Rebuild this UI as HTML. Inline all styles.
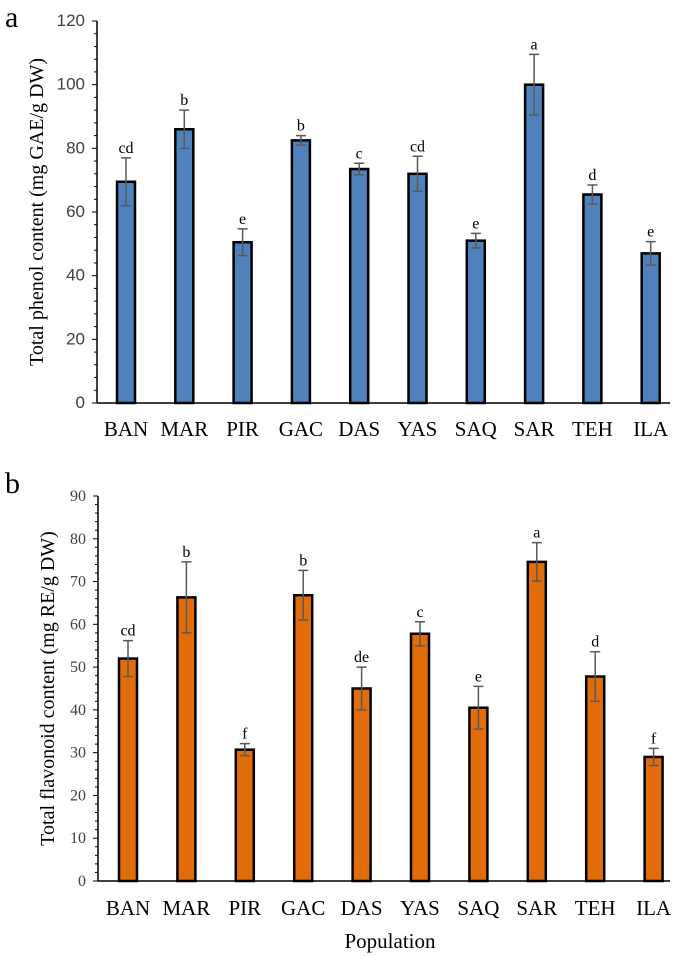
<!DOCTYPE html>
<html><head><meta charset="utf-8"><style>
body{margin:0;background:#fff;}
svg{display:block;}
.ser{font-family:"Liberation Serif",serif;}
.san{font-family:"Liberation Sans",sans-serif;}
</style></head><body>
<svg id="c" width="685" height="956" xmlns="http://www.w3.org/2000/svg"></svg>
<script>
const categories=["BAN","MAR","PIR","GAC","DAS","YAS","SAQ","SAR","TEH","ILA"];
const phenolValues=[69.5,86,50.5,82.5,73.5,72,51,100,65.5,47];
const phenolErrors=[7.5,6,4.2,1.5,1.8,5.5,2.3,9.5,3,3.7];
const phenolLetters=["cd","b","e","b","c","cd","e","a","d","e"];
const phenolTicks=[0,20,40,60,80,100,120];
const flavValues=[52,66.3,30.7,66.8,45,57.8,40.5,74.6,47.8,29];
const flavErrors=[4.2,8.3,1.4,5.8,5,2.8,5,4.5,5.8,2];
const flavLetters=["cd","b","f","b","de","c","e","a","d","f"];
const flavTicks=[0,10,20,30,40,50,60,70,80,90];
const NS="http://www.w3.org/2000/svg";
const svg=document.getElementById('c');
function mk(tag,attrs,text){const e=document.createElementNS(NS,tag);for(const k in attrs)e.setAttribute(k,attrs[k]);if(text!==undefined)e.textContent=text;svg.appendChild(e);return e;}
function chart(o){
  const y=v=>o.y0-(v-o.min)/(o.max-o.min)*(o.y0-o.y1);
  const x=i=>o.xc0+i*o.step;
  let e=mk('line',{x1:o.ax,y1:o.y1,x2:o.ax,y2:o.y0,stroke:'#000','stroke-width':1.5});
  
  e=mk('line',{x1:o.ax,y1:o.y0,x2:670,y2:o.y0,stroke:'#000','stroke-width':1.5});
  
  const tmax=o.ticks[o.ticks.length-1],tstep=o.ticks[1]-o.ticks[0];
  for(let v=o.min;v<=tmax+1e-9;v+=tstep/o.minor){
    const major=Math.abs(Math.round(v/tstep)*tstep-v)<1e-6;
    mk('line',{x1:o.ax-(major?5:3),y1:y(v),x2:o.ax,y2:y(v),stroke:'#000','stroke-width':1});
  }
  o.ticks.forEach(t=>{
    const tx=mk('text',{x:o.ax-12,y:y(t)+5,'text-anchor':'end','font-size':o.tfs,fill:o.tcol,class:o.tcls},String(t));
    
    
  });
  categories.forEach((c,i)=>{
    const v=o.vals[i],er=o.errs[i],cx=x(i);
    const r=mk('rect',{x:cx-9,y:y(v),width:18,height:o.y0-y(v),fill:o.col,stroke:'#000','stroke-width':2.5});
    
    
    const g=mk('path',{d:`M${cx},${y(v+er)}V${y(v-er)}M${cx-5},${y(v+er)}H${cx+5}M${cx-5},${y(v-er)}H${cx+5}`,stroke:'#595959','stroke-width':1.5,fill:'none'});
    
    
    const l=mk('text',{x:cx,y:y(v+er)-5,'text-anchor':'middle','font-size':16,class:'ser'},o.letters[i]);
    
    
    const cl=mk('text',{x:cx,y:o.ly,'text-anchor':'middle','font-size':21,class:'ser'},c);
    
    
  });
  const tt=mk('text',{x:0,y:0,'text-anchor':'middle','font-size':20,class:'ser',transform:`translate(${o.tx},${(o.y0+o.y1)/2}) rotate(-90)`},o.title);
  
  
  const pl=mk('text',{x:5,y:o.py,'font-size':30,class:'ser'},o.p);
  
  
}
chart({p:'a',vals:phenolValues,errs:phenolErrors,letters:phenolLetters,ticks:phenolTicks,min:0,max:120,y0:403,y1:21,ax:97,xc0:126,step:58.3,minor:5,col:'#4f81bd',tfs:17,tcol:'#404040',tcls:'san',ly:436,tx:43,title:'Total phenol content (mg GAE/g DW)',py:27});
chart({p:'b',vals:flavValues,errs:flavErrors,letters:flavLetters,ticks:flavTicks,min:0,max:90,y0:881,y1:496,ax:98,xc0:128,step:58.4,minor:5,col:'#e36c0a',tfs:16,tcol:'#404040',tcls:'ser',ly:915,tx:54,title:'Total flavonoid content (mg RE/g DW)',py:493});
const pop=mk('text',{x:390,y:948,'text-anchor':'middle','font-size':21,class:'ser'},'Population');


</script>
</body></html>
